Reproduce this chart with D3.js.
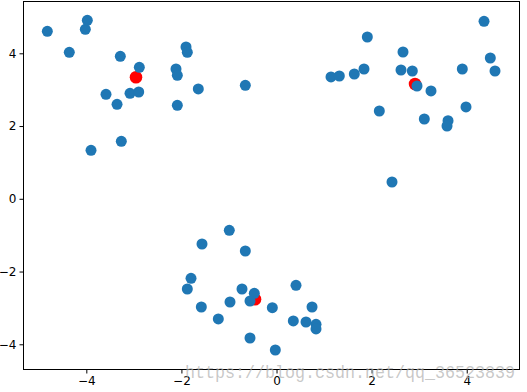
<!DOCTYPE html>
<html>
<head>
<meta charset="utf-8">
<script src="https://cdn.jsdelivr.net/npm/d3@7"></script>
<style>
  html, body { margin: 0; padding: 0; background: #fff; }
  svg { display: block; }
</style>
</head>
<body>
<svg id="chart" width="527" height="392"></svg>
<script>
// Data points (blue)
const pointsX = [
  -4.82, -4.358, -4.021, -3.979, -3.285, -2.885, -3.586, -3.354, -3.081, -2.898,
  -3.901, -3.264, -1.903, -1.876, -2.114, -2.086, -1.645, -2.086, -0.656,
  1.146, 1.321, 1.636, 1.840, 1.910, 2.660, 2.618, 2.856, 2.955, 3.249,
  2.162, 3.108, 3.607, 3.586, 3.985, 3.907, 4.364, 4.496, 4.595, 2.429,
  -0.993, -1.567, -0.656, -1.798, -1.876, -0.726, -0.467, -0.557, -0.978, -1.581,
  -0.088, 0.410, 0.747, -1.224, 0.353, 0.620, 0.831, 0.831, -0.557, -0.025
];
const pointsY = [
  4.605, 4.028, 4.660, 4.907, 3.918, 3.615, 2.873, 2.598, 2.900, 2.936,
  1.333, 1.581, 4.173, 4.028, 3.568, 3.395, 3.019, 2.570, 3.120,
  3.349, 3.376, 3.431, 3.568, 4.448, 4.036, 3.541, 3.513, 3.101, 2.964,
  2.414, 2.194, 2.147, 2.001, 2.524, 3.568, 4.880, 3.871, 3.513, 0.462,
  -0.866, -1.243, -1.435, -2.186, -2.480, -2.480, -2.598, -2.810, -2.837, -2.975,
  -2.994, -2.378, -2.975, -3.304, -3.359, -3.387, -3.450, -3.579, -3.827, -4.157
];
// Cluster centres (red)
const centerX = [-2.955, 2.913, -0.452];
const centerY = [3.340, 3.156, -2.763];

const xTicks = [-4, -2, 0, 2, 4];
const yTicks = [-4, -2, 0, 2, 4];
const watermark = "https://blog.csdn.net/qq_36523839";

const svg = d3.select("#chart");
const L = 23.5, R = 519.5, T = 1.5, B = 369.5;

const x = d3.scaleLinear().domain([-5.321, 5.110]).range([L, R]);
const y = d3.scaleLinear().domain([-4.693, 5.424]).range([B, T]);

const plot = svg.append("g");

// centres first (blue drawn over)
plot.selectAll("circle.c").data(centerX.map((d, i) => [d, centerY[i]]))
  .join("circle").attr("class", "c")
  .attr("cx", d => x(d[0])).attr("cy", d => y(d[1]))
  .attr("r", 6.3).attr("fill", "#ff0000");

plot.selectAll("circle.p").data(pointsX.map((d, i) => [d, pointsY[i]]))
  .join("circle").attr("class", "p")
  .attr("cx", d => x(d[0])).attr("cy", d => y(d[1]))
  .attr("r", 5.5).attr("fill", "#1f77b4");

// frame
svg.append("rect").attr("x", L).attr("y", T).attr("width", R - L).attr("height", B - T)
  .attr("fill", "none").attr("stroke", "#000").attr("stroke-width", 1);

const fmt = d => (d < 0 ? "\u2212" + Math.abs(d) : String(d));

const xAxis = d3.axisBottom(x).tickValues(xTicks).tickSize(4).tickPadding(3).tickFormat(fmt);
const gx = svg.append("g").attr("transform", `translate(0,${B})`).call(xAxis);
const yAxis = d3.axisLeft(y).tickValues(yTicks).tickSize(4).tickPadding(3).tickFormat(fmt);
const gy = svg.append("g").attr("transform", `translate(${L},0)`).call(yAxis);
[gx, gy].forEach(g => {
  g.select(".domain").remove();
  g.selectAll("text").attr("font-family", "DejaVu Sans").attr("font-size", 12).attr("fill", "#000");
  g.selectAll("line").attr("stroke", "#000");
});

// watermark
svg.append("text").attr("x", 185).attr("y", 377.5)
  .attr("font-family", "Liberation Mono").attr("font-size", 18)
  .attr("textLength", 330).attr("lengthAdjust", "spacingAndGlyphs")
  .attr("fill", "#b0b0b0").attr("fill-opacity", 0.7)
  .text(watermark);
</script>
</body>
</html>
